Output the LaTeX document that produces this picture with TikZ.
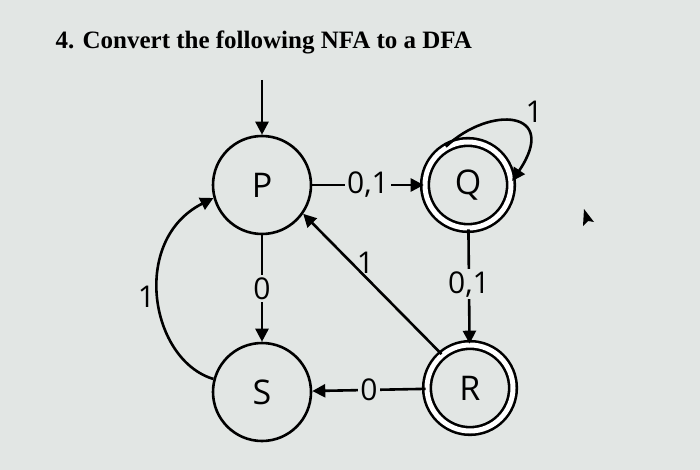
\documentclass[tikz,border=0pt]{standalone}
\usepackage{fontspec}
\setmainfont{Liberation Serif}
\newfontfamily\lab{Open Sans}
\usetikzlibrary{arrows.meta}
\definecolor{bg}{RGB}{226,230,228}
\begin{document}
\begin{tikzpicture}[x=1pt,y=-1pt,
  st/.style={circle,draw,line width=2.6pt,minimum size=98pt,inner sep=0pt,font=\lab\fontsize{34}{34}\selectfont},
  acc/.style={st,double,double distance=5pt,minimum size=86pt},
  ed/.style={line width=2.6pt,-{Triangle[length=13pt,width=13pt]}},
  lb/.style={fill=bg,inner sep=2pt,font=\lab\fontsize{30}{30}\selectfont}]
\fill[bg] (0,0) rectangle (700,470);
\useasboundingbox (0,0) rectangle (700,470);
\node[anchor=west,font=\bfseries\fontsize{25}{25}\selectfont] (t) at (52,42) {4. Convert the following NFA to a DFA};
\node[st] (P) at (262,185) {P};
\node[acc] (Q) at (468,185) {Q};
\node[st] (S) at (262,392) {S};
\node[acc] (R) at (470,388) {R};
\coordinate (in) at (262,80);
\draw[ed] (in) -- (P);
\draw[ed] (P) -- node[lb]{0,1} (Q);
\draw[ed] (Q.120) .. controls (490,105) and (560,110) .. (Q.5) node[pos=0.6,lb,above right,fill=none]{1};
\draw[ed] (P) -- node[lb]{0} (S);
\draw[ed] (Q) -- node[lb,pos=0.48]{0,1} (R);
\draw[ed] (R.130) -- node[lb,pos=0.55,fill=none,above]{1} (P.-35);
\draw[ed] (R) -- node[lb]{0} (S);
\draw[ed] (S.165) .. controls (150,360) and (130,240) .. (P.195) node[pos=0.5,lb,fill=none,left]{1};
\fill (584,209) -- (594,222) -- (588,221) -- (583,226) -- cycle;
\end{tikzpicture}
\end{document}
